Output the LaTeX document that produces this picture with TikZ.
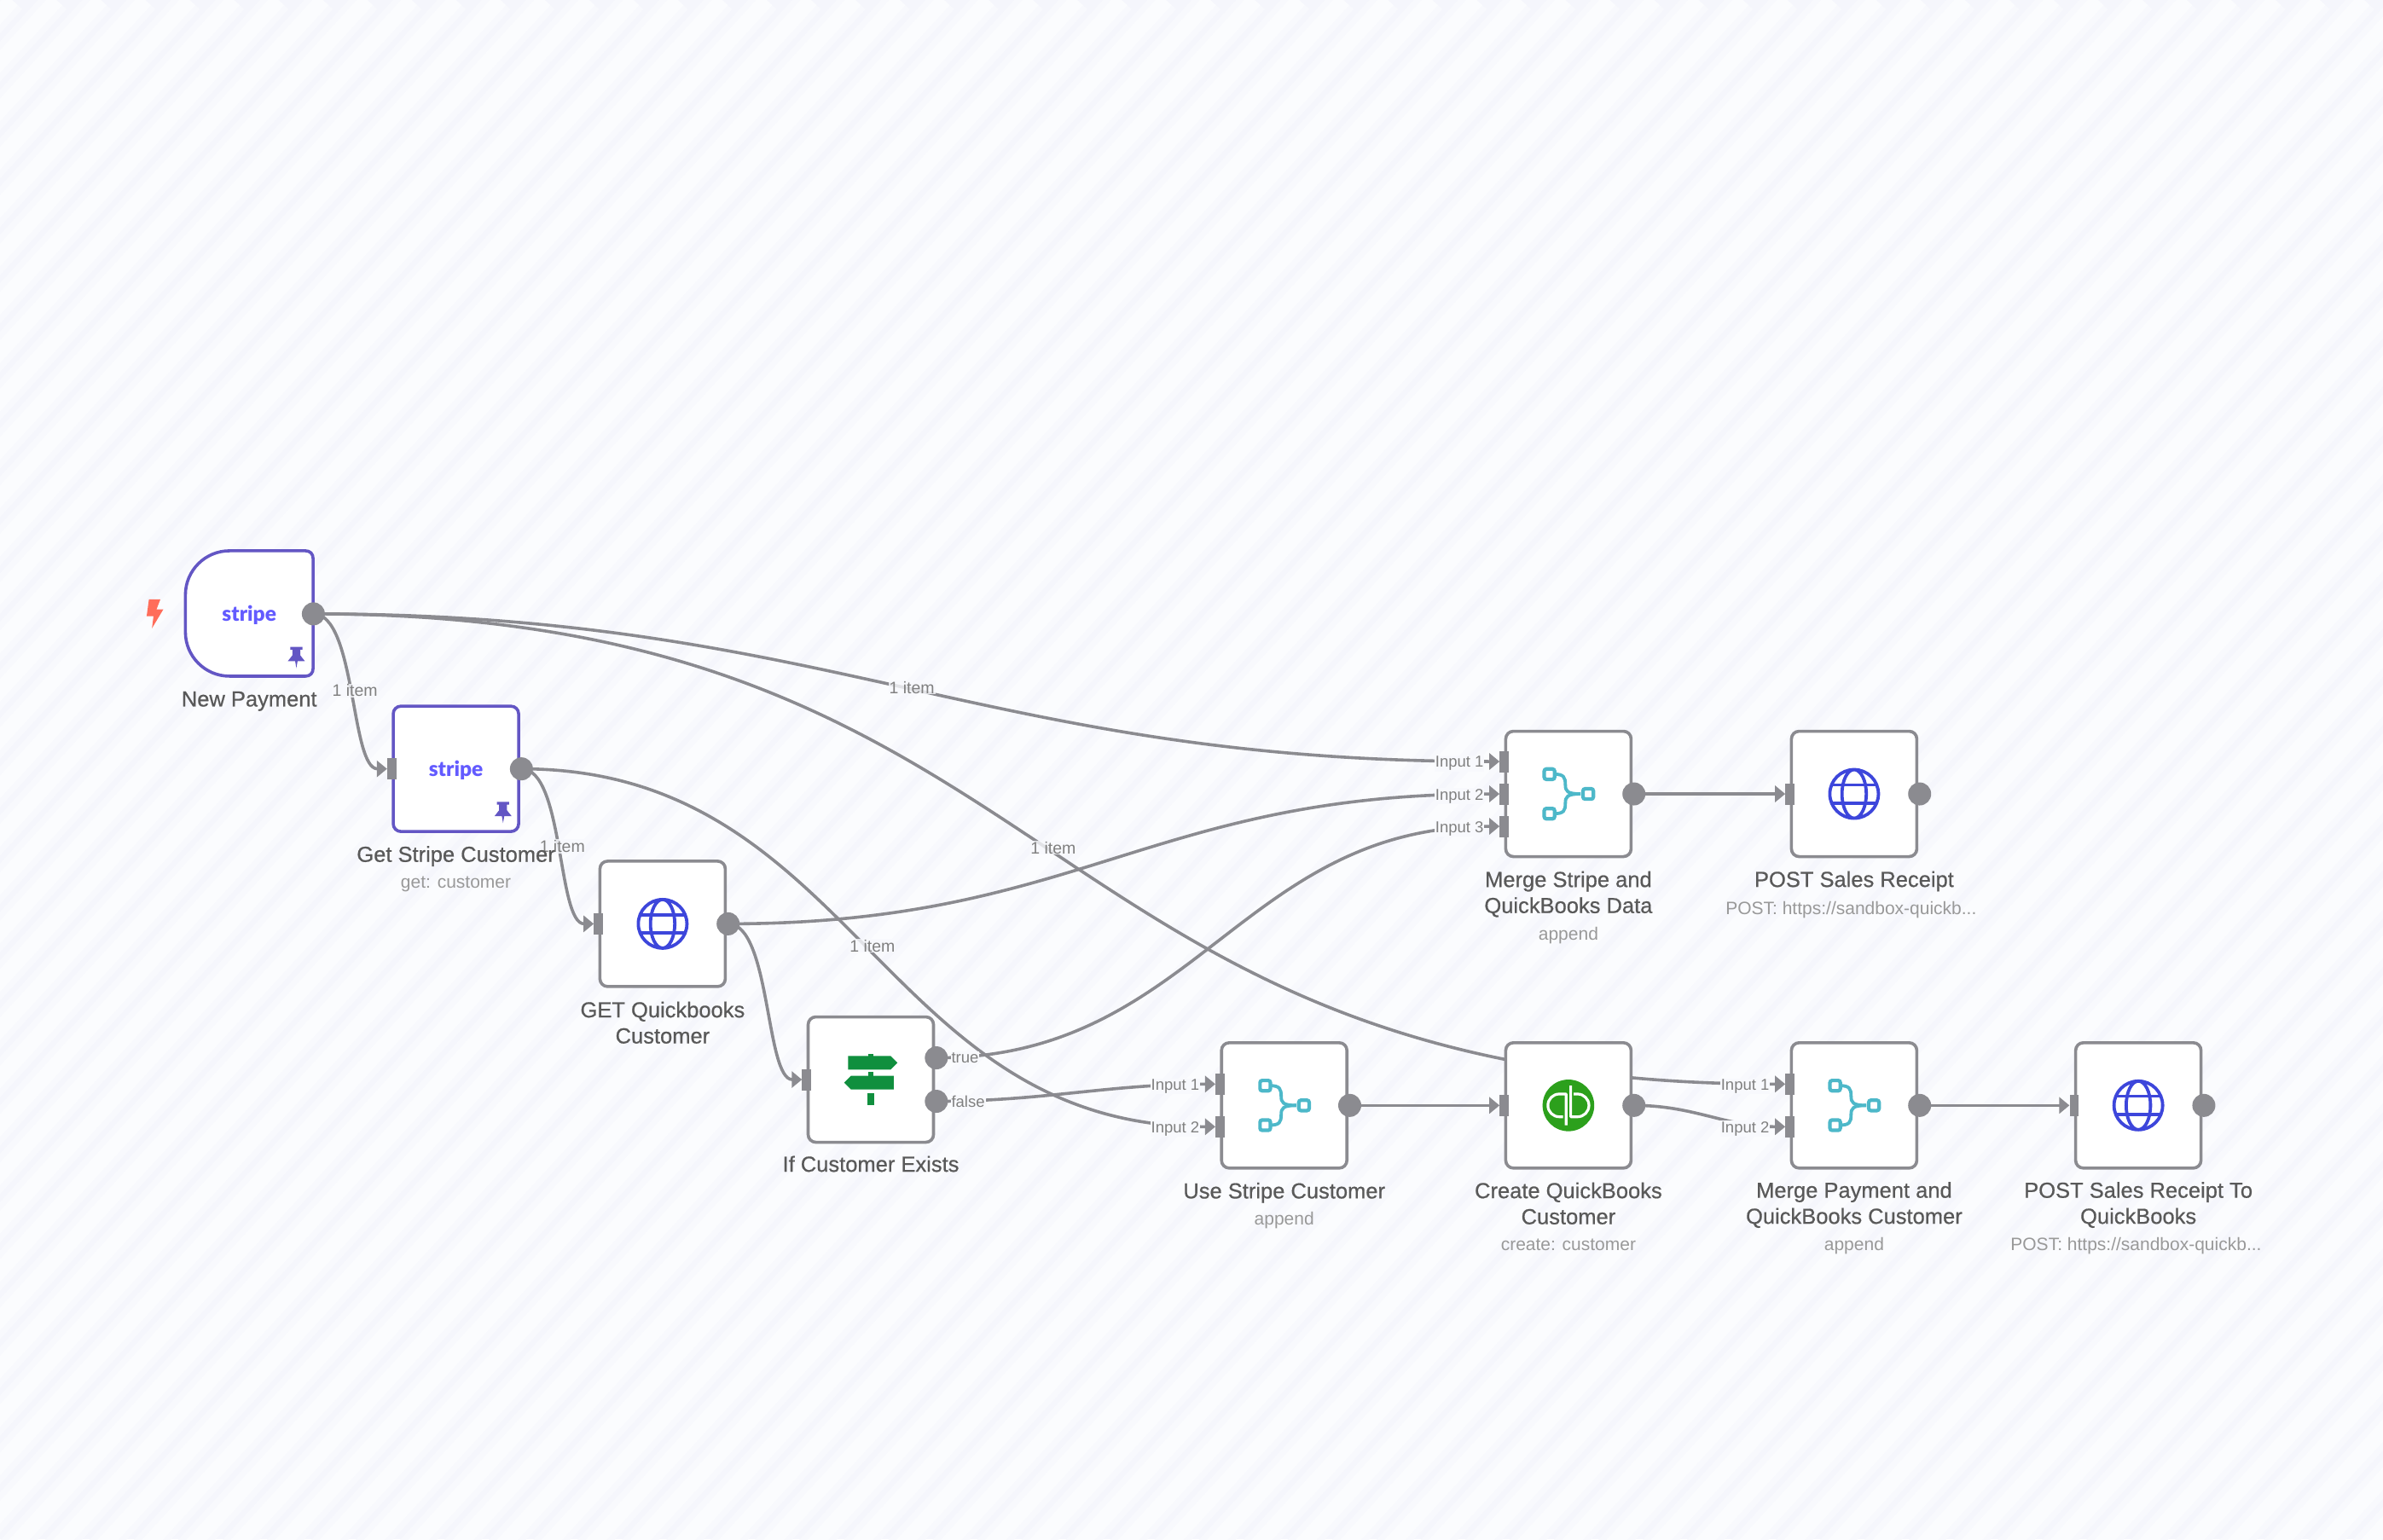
\documentclass[tikz,border=0pt]{standalone}
\usepackage{fontspec}
\usetikzlibrary{arrows.meta,calc}
\setmainfont{Liberation Sans}
\newfontfamily\lblfont[FakeBold=0.6]{Liberation Sans}
\newfontfamily\logofont{Lato Black}
\definecolor{bgA}{HTML}{F5F6FC}
\definecolor{bgB}{HTML}{F8F9FD}
\definecolor{bgC}{HTML}{FBFCFE}
\definecolor{edgec}{HTML}{8B8B90}
\definecolor{stripec}{HTML}{635BFF}
\definecolor{purp}{HTML}{6356C4}
\definecolor{mergec}{HTML}{4DB8C9}
\definecolor{globec}{HTML}{3D46DB}
\definecolor{qbc}{HTML}{2CA01C}
\definecolor{ifc}{HTML}{108F3E}
\definecolor{boltc}{HTML}{FF6D5A}
\pgfdeclarelayer{back}
\pgfdeclarelayer{edges}
\pgfsetlayers{back,edges,main}
\tikzset{
  x=1.7819pt,y=-1.7819pt,
  wfbox/.style={draw=edgec,fill=white,line width=3.6pt,rounded corners=9pt,minimum size=147pt,inner sep=0pt},
  pinbox/.style={wfbox,draw=purp},
  outdot/.style={circle,fill=edgec,draw=none,minimum size=27pt,inner sep=0pt,xshift=1.5pt},
  inbar/.style={rectangle,fill=edgec,draw=none,minimum width=10.5pt,minimum height=25pt,inner sep=0pt},
  conn/.style={draw=edgec,line width=3.6pt},
  arr/.style={conn,-{Triangle[length=12pt,width=19pt]}},
  lbl/.style={font=\lblfont\fontsize{25.5}{30.5}\selectfont,text=black!65,align=center,inner sep=0pt},
  sub/.style={font=\fontsize{21}{24}\selectfont,text=black!40,align=center,inner sep=0pt},
  itemlab/.style={font=\fontsize{19.5}{24}\selectfont,text=black!50,inner sep=1pt,fill=bgB,fill opacity=0.8,text opacity=1},
  portlab/.style={font=\fontsize{18.5}{22}\selectfont,text=black!50,fill=bgB,inner sep=1pt},
  logo/.style={font=\logofont\fontsize{24.5}{26}\selectfont,text=stripec,inner sep=0pt},
  mergeicon/.pic={
    \draw[mergec,line width=3.8pt] (-9.5,-13) .. controls (-3,-13) and (-2,-11) .. (-2,-6) .. controls (-2,-2) and (-1,0) .. (8,0);
    \draw[mergec,line width=3.8pt] (-9.5,13) .. controls (-3,13) and (-2,11) .. (-2,6) .. controls (-2,2) and (-1,0) .. (8,0);
    \foreach \a/\b in {-12.5/-13,-12.5/13,13/0}
      \draw[mergec,line width=4.2pt,fill=white,rounded corners=2.5pt] (\a-3.4,\b-3.4) rectangle (\a+3.4,\b+3.4);
  },
  globeicon/.pic={
    \begin{scope}
    \clip (0,0) circle (16.5);
    \draw[globec,line width=3.6pt] (-17,-6) -- (17,-6) (-17,6) -- (17,6);
    \end{scope}
    \draw[globec,line width=3.8pt] (0,0) circle (16) (0,0) ellipse (8 and 16);
  },
  pinicon/.pic={
    \fill[purp] (-4,-6.8) -- (4,-6.8) -- (4,-5) -- (2.6,-5) -- (2.6,-1.2) -- (5.6,2.6) -- (0.8,2.6) -- (0,7.2) -- (-0.8,2.6) -- (-5.6,2.6) -- (-2.6,-1.2) -- (-2.6,-5) -- (-4,-5) -- cycle;
  },
}
\begin{document}
\begin{tikzpicture}
\useasboundingbox (0,0) rectangle (1568,1013);
% background stripes
\begin{pgfonlayer}{back}
\begin{scope}
\clip (0,0) rectangle (1568,1013);
\fill[bgA] (0,0) rectangle (1568,1013);
\foreach \c in {0,...,90} {
  \draw[bgB,line width=32pt] ({\c*29.2+8},0) -- ++(-1000,1090);
  \draw[bgC,line width=18pt] ({\c*29.2+8},0) -- ++(-1000,1090);
}
\end{scope}
\end{pgfonlayer}
% boxes
\draw[purp,line width=3.6pt,fill=white] (151,362.5) -- (201,362.5) .. controls (204,362.5) and (206,364.5) .. (206,367.5) -- (206,440) .. controls (206,443) and (204,445) .. (201,445) -- (151,445) .. controls (135,445) and (122,432) .. (122,416) -- (122,391.5) .. controls (122,375.5) and (135,362.5) .. (151,362.5) -- cycle;
\node[minimum size=147pt,inner sep=0pt] (np) at (164,404) {};
\node[pinbox] (gs) at (300,506) {};
\node[wfbox] (gq) at (436,608) {};
\node[wfbox] (ifc) at (573,710.5) {};
\node[wfbox] (us) at (845,727.5) {};
\node[wfbox] (cq) at (1032,727.5) {};
\node[wfbox] (mp) at (1220,727.5) {};
\node[wfbox] (pq) at (1407,727.5) {};
\node[wfbox] (ms) at (1032,522.5) {};
\node[wfbox] (ps) at (1220,522.5) {};
% output ports
\node[outdot] (np-o) at (np.east) {};
\node[outdot] (gs-o) at (gs.east) {};
\node[outdot] (gq-o) at (gq.east) {};
\node[outdot] (if-t) at ([yshift=25.5pt]ifc.east) {};
\node[outdot] (if-f) at ([yshift=-25.5pt]ifc.east) {};
\node[outdot] (us-o) at (us.east) {};
\node[outdot] (cq-o) at (cq.east) {};
\node[outdot] (mp-o) at (mp.east) {};
\node[outdot] (pq-o) at (pq.east) {};
\node[outdot] (ms-o) at (ms.east) {};
\node[outdot] (ps-o) at (ps.east) {};
% input ports
\node[inbar] (gs-i) at (gs.west) {};
\node[inbar] (gq-i) at (gq.west) {};
\node[inbar] (if-i) at (ifc.west) {};
\node[inbar] (us-1) at ([yshift=25pt]us.west) {};
\node[inbar] (us-2) at ([yshift=-25pt]us.west) {};
\node[inbar] (cq-i) at (cq.west) {};
\node[inbar] (mp-1) at ([yshift=25pt]mp.west) {};
\node[inbar] (mp-2) at ([yshift=-25pt]mp.west) {};
\node[inbar] (pq-i) at (pq.west) {};
\node[inbar] (ms-1) at ([yshift=38pt]ms.west) {};
\node[inbar] (ms-2) at (ms.west) {};
\node[inbar] (ms-3) at ([yshift=-38pt]ms.west) {};
\node[inbar] (ps-i) at (ps.west) {};
% connectors
\begin{pgfonlayer}{edges}
\draw[arr] (np-o.center) .. controls +(28,0) and +(-24,0) .. (gs-i.west);
\draw[arr] (gs-o.center) .. controls +(28,0) and +(-24,0) .. (gq-i.west);
\draw[arr] (gq-o.center) .. controls +(28,0) and +(-24,0) .. (if-i.west);
\draw[arr] (np-o.center) .. controls +(340,0) and +(-340,0) .. (ms-1.west);
\draw[arr] (np-o.center) .. controls +(500,0) and +(-500,0) .. (mp-1.west);
\draw[arr] (gs-o.center) .. controls +(220,0) and +(-220,0) .. (us-2.west);
\draw[arr] (gq-o.center) .. controls +(230,0) and +(-230,0) .. (ms-2.west);
\draw[arr] (if-t.center) .. controls +(170,0) and +(-170,0) .. (ms-3.west);
\draw[arr] (if-f.center) .. controls +(70,0) and +(-70,0) .. (us-1.west);
\draw[arr] (us-o.center) -- (cq-i.west);
\draw[arr] (cq-o.center) .. controls +(40,0) and +(-40,0) .. (mp-2.west);
\draw[arr] (mp-o.center) -- (pq-i.west);
\draw[arr] (ms-o.center) -- (ps-i.west);
\end{pgfonlayer}
% connector labels
\node[itemlab] (l1) at (233.5,454.5) {1 item};
\node[itemlab] (l2) at (600,452.5) {1 item};
\node[itemlab] (l3) at (370,557) {1 item};
\node[itemlab] (l4) at (693,558) {1 item};
\node[itemlab] (l5) at (574,622.5) {1 item};
\node[portlab] at (635,696) {true};
\node[portlab] at (637,725) {false};
\foreach \n/\t in {ms-1/Input 1,ms-2/Input 2,ms-3/Input 3,us-1/Input 1,us-2/Input 2,mp-1/Input 1,mp-2/Input 2}
  \node[portlab,anchor=east] at ([xshift=-23pt,yshift=-2.5pt]\n.center) {\t};
% icons
\node[logo] at (164,405) {stripe};
\node[logo] at (300,507) {stripe};
\pic at (195,432.5) {pinicon};
\pic at (331,534.5) {pinicon};
\fill[boltc] (98,394.5) -- (105.5,394.5) -- (103,401) -- (107.5,401) -- (100,413.5) -- (101,405.5) -- (96.5,405.5) -- cycle;
\pic at (gq.center) {globeicon};
\pic at (ps.center) {globeicon};
\pic at (pq.center) {globeicon};
\pic at (ms.center) {mergeicon};
\pic at (us.center) {mergeicon};
\pic at (mp.center) {mergeicon};
% QuickBooks logo
\begin{scope}[shift={(cq.center)}]
\fill[qbc] (0,0) circle (17);
\draw[white,line width=3.2pt,line join=round] (-1.5,13) -- (-1.5,-7.5) -- (-6,-7.5) arc[start angle=-90,delta angle=-180,radius=7.5] -- (-3.5,7.5);
\draw[white,line width=3.2pt,line join=round] (1.5,-13) -- (1.5,7.5) -- (6,7.5) arc[start angle=90,delta angle=-180,radius=7.5] -- (3.5,-7.5);
\end{scope}
% If sign
\begin{scope}[shift={(ifc.center)}]
\fill[ifc] (-1.5,-17) rectangle (1.5,-14);
\fill[ifc] (-15,-15.5) -- (13,-15.5) -- (17.5,-11) -- (13,-6.5) -- (-15,-6.5) -- cycle;
\fill[ifc] (-1.5,-5) rectangle (1.5,-2);
\fill[ifc] (15,-2.5) -- (-13,-2.5) -- (-17.5,2) -- (-13,6.5) -- (15,6.5) -- cycle;
\fill[ifc] (-2.2,9) rectangle (2.2,17);
\end{scope}
% node labels
\node[lbl] (t1) at (164,461.5) {New Payment};
\node[lbl] (t2) at (300,563.5) {Get Stripe Customer};
\node[sub] (s2) at (300,582) {get: customer};
\node[lbl] (t3) at (436,673) {GET Quickbooks\\Customer};
\node[lbl] (t4) at (573,766) {If Customer Exists};
\node[lbl] (t5) at (845,785) {Use Stripe Customer};
\node[sub] (s5) at (845,803) {append};
\node[lbl] (t6) at (1032,792) {Create QuickBooks\\Customer};
\node[sub] (s6) at (1032,819.5) {create: customer};
\node[lbl] (t7) at (1220,793) {Merge Payment and\\QuickBooks Customer};
\node[sub] (s7) at (1220,820) {append};
\node[lbl] (t8) at (1407,793) {POST Sales Receipt To\\QuickBooks};
\node[sub] (s8) at (1405.5,820) {POST: https://sandbox-quickb...};
\node[lbl] (t9) at (1032,588.5) {Merge Stripe and\\QuickBooks Data};
\node[sub] (s9) at (1032,615.5) {append};
\node[lbl] (t10) at (1220,580) {POST Sales Receipt};
\node[sub] (s10) at (1218,599) {POST: https://sandbox-quickb...};
\end{tikzpicture}
\end{document}
